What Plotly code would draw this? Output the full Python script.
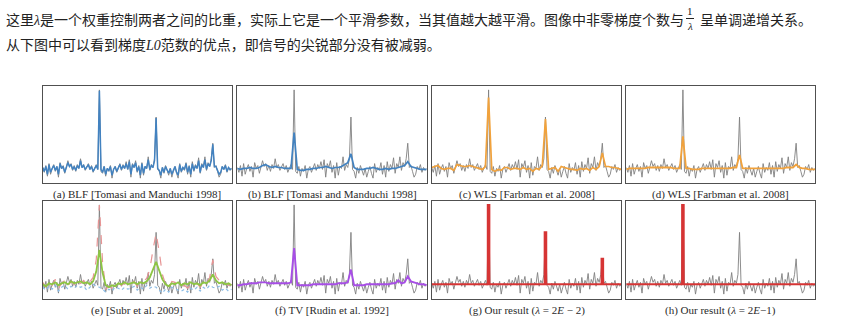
import plotly.graph_objects as go

W, H = 857, 328

# ---- signal data (sample index 0..120) ----
x_in = list(range(121))
noisy = [
    0.16, 0.11, 0.18, 0.07, 0.20, 0.09, 0.15, 0.19, 0.12, 0.17,
    0.06, 0.21, 0.15, 0.18, 0.10, 0.16, 0.23, 0.17, 0.20, 0.13,
    0.18, 0.12, 0.19, 0.15, 0.25, 0.16, 0.19, 0.13, 0.17, 0.20,
    0.14, 0.18, 0.11, 0.16, 0.19, 0.14, 0.96, 0.12, 0.10, 0.17,
    0.07, 0.15, 0.12, 0.18, 0.05, 0.14, 0.17, 0.11, 0.16, 0.20,
    0.13, 0.19, 0.15, 0.22, 0.14, 0.24, 0.06, 0.20, 0.16, 0.23,
    0.11, 0.18, 0.05, 0.21, 0.08, 0.17, 0.15, 0.27, 0.13, 0.19,
    0.16, 0.25, 0.68, 0.14, 0.12, 0.05, 0.16, 0.10, 0.18, 0.13,
    0.08, 0.15, 0.06, 0.12, 0.17, 0.10, 0.05, 0.20, 0.11, 0.16,
    0.13, 0.21, 0.09, 0.18, 0.06, 0.22, 0.12, 0.19, 0.15, 0.26,
    0.10, 0.20, 0.16, 0.27, 0.13, 0.21, 0.17, 0.25, 0.41, 0.16,
    0.18, 0.12, 0.06, 0.09, 0.17, 0.14, 0.19, 0.11, 0.16, 0.13, 0.15,
]

# (a) bilateral filter, light smoothing (full grid)
blf_light = [
    0.16, 0.12, 0.17, 0.09, 0.19, 0.11, 0.15, 0.18, 0.13, 0.17,
    0.09, 0.20, 0.15, 0.17, 0.11, 0.16, 0.21, 0.17, 0.19, 0.14,
    0.17, 0.13, 0.18, 0.15, 0.23, 0.16, 0.18, 0.14, 0.17, 0.19,
    0.14, 0.17, 0.12, 0.16, 0.18, 0.14, 0.95, 0.14, 0.11, 0.17,
    0.09, 0.15, 0.13, 0.17, 0.08, 0.14, 0.17, 0.12, 0.16, 0.19,
    0.14, 0.18, 0.15, 0.20, 0.14, 0.22, 0.09, 0.19, 0.16, 0.21,
    0.12, 0.17, 0.08, 0.20, 0.10, 0.17, 0.15, 0.24, 0.14, 0.18,
    0.16, 0.23, 0.67, 0.15, 0.13, 0.08, 0.16, 0.11, 0.17, 0.14,
    0.10, 0.15, 0.09, 0.13, 0.17, 0.11, 0.08, 0.19, 0.12, 0.16,
    0.14, 0.20, 0.11, 0.17, 0.09, 0.20, 0.13, 0.18, 0.15, 0.23,
    0.11, 0.19, 0.16, 0.24, 0.14, 0.20, 0.17, 0.23, 0.40, 0.17,
    0.17, 0.13, 0.09, 0.11, 0.17, 0.14, 0.18, 0.12, 0.16, 0.14, 0.15,
]

# smoother results sampled every second index
x_s = list(range(0, 121, 2))

blf_strong = [
    0.15, 0.14, 0.15, 0.15, 0.16, 0.15, 0.15, 0.16, 0.18, 0.19,
    0.17, 0.16, 0.17, 0.16, 0.16, 0.15, 0.15, 0.15, 0.52, 0.14,
    0.13, 0.13, 0.14, 0.14, 0.15, 0.15, 0.16, 0.16, 0.17, 0.16,
    0.15, 0.16, 0.16, 0.17, 0.19, 0.21, 0.30, 0.16, 0.14, 0.14,
    0.14, 0.15, 0.15, 0.16, 0.15, 0.14, 0.14, 0.15, 0.14, 0.15,
    0.15, 0.16, 0.17, 0.18, 0.22, 0.17, 0.16, 0.15, 0.14, 0.14,
    0.14,
]

wls_light = [
    0.16, 0.17, 0.18, 0.15, 0.14, 0.15, 0.15, 0.13, 0.19, 0.18,
    0.17, 0.17, 0.18, 0.17, 0.16, 0.15, 0.14, 0.17, 0.88, 0.14,
    0.12, 0.14, 0.13, 0.16, 0.16, 0.14, 0.15, 0.15, 0.14, 0.16,
    0.14, 0.15, 0.12, 0.15, 0.14, 0.18, 0.66, 0.14, 0.15, 0.16,
    0.12, 0.17, 0.16, 0.15, 0.14, 0.14, 0.13, 0.15, 0.14, 0.15,
    0.13, 0.16, 0.14, 0.17, 0.31, 0.17, 0.17, 0.16, 0.16, 0.15,
    0.14,
]

wls_strong = [
    0.14, 0.15, 0.15, 0.15, 0.15, 0.15, 0.15, 0.16, 0.16, 0.16,
    0.16, 0.16, 0.16, 0.16, 0.16, 0.15, 0.15, 0.15, 0.48, 0.15,
    0.15, 0.14, 0.14, 0.14, 0.15, 0.15, 0.15, 0.15, 0.15, 0.15,
    0.15, 0.15, 0.15, 0.15, 0.16, 0.16, 0.29, 0.15, 0.15, 0.15,
    0.15, 0.15, 0.15, 0.15, 0.15, 0.15, 0.15, 0.15, 0.15, 0.15,
    0.15, 0.16, 0.16, 0.16, 0.19, 0.16, 0.15, 0.15, 0.14, 0.14,
    0.14,
]

subr_main = [
    0.15, 0.13, 0.16, 0.15, 0.17, 0.14, 0.16, 0.17, 0.15, 0.18,
    0.16, 0.17, 0.18, 0.16, 0.17, 0.15, 0.18, 0.28, 0.50, 0.27,
    0.14, 0.12, 0.14, 0.13, 0.16, 0.15, 0.17, 0.15, 0.16, 0.17,
    0.15, 0.17, 0.16, 0.18, 0.22, 0.30, 0.38, 0.29, 0.20, 0.15,
    0.13, 0.16, 0.15, 0.17, 0.14, 0.16, 0.15, 0.17, 0.15, 0.16,
    0.14, 0.17, 0.16, 0.19, 0.25, 0.19, 0.16, 0.17, 0.15, 0.16,
    0.14,
]

subr_upper = [
    0.17, 0.12, 0.19, 0.14, 0.20, 0.11, 0.16, 0.19, 0.13, 0.18,
    0.15, 0.20, 0.16, 0.19, 0.13, 0.17, 0.22, 0.40, 0.96, 0.38,
    0.10, 0.13, 0.11, 0.17, 0.16, 0.14, 0.16, 0.13, 0.15, 0.18,
    0.13, 0.16, 0.18, 0.21, 0.30, 0.50, 0.67, 0.48, 0.25, 0.15,
    0.11, 0.18, 0.17, 0.14, 0.12, 0.14, 0.11, 0.15, 0.13, 0.16,
    0.12, 0.17, 0.15, 0.22, 0.40, 0.23, 0.19, 0.17, 0.16, 0.14,
    0.15,
]

subr_lower = [
    0.12, 0.09, 0.13, 0.10, 0.14, 0.08, 0.12, 0.14, 0.10, 0.13,
    0.11, 0.14, 0.12, 0.13, 0.09, 0.12, 0.15, 0.13, 0.12, 0.10,
    0.07, 0.10, 0.08, 0.12, 0.11, 0.09, 0.12, 0.10, 0.11, 0.13,
    0.09, 0.12, 0.10, 0.14, 0.11, 0.13, 0.12, 0.09, 0.06, 0.10,
    0.07, 0.12, 0.11, 0.09, 0.08, 0.10, 0.07, 0.11, 0.09, 0.12,
    0.08, 0.12, 0.10, 0.14, 0.12, 0.11, 0.13, 0.09, 0.11, 0.08,
    0.10,
]

tv = [
    0.14, 0.14, 0.15, 0.15, 0.16, 0.16, 0.16, 0.17, 0.17, 0.17,
    0.16, 0.16, 0.16, 0.16, 0.16, 0.16, 0.16, 0.17, 0.52, 0.14,
    0.14, 0.14, 0.14, 0.14, 0.15, 0.15, 0.15, 0.15, 0.15, 0.15,
    0.15, 0.15, 0.16, 0.16, 0.16, 0.17, 0.30, 0.14, 0.14, 0.14,
    0.14, 0.15, 0.15, 0.15, 0.15, 0.15, 0.15, 0.15, 0.15, 0.16,
    0.16, 0.19, 0.16, 0.17, 0.23, 0.18, 0.17, 0.16, 0.15, 0.15,
    0.14,
]

# L0 gradient minimisation: piecewise-constant segments (edges, levels)
l0_small_edges = [0, 35.5, 36.5, 71.5, 72.5, 107.5, 108.5, 120]
l0_small_levels = [0.15, 0.96, 0.15, 0.68, 0.15, 0.41, 0.15, 0.15]
l0_large_edges = [0, 35.5, 36.5, 120]
l0_large_levels = [0.15, 0.96, 0.15, 0.15]

captions = [
    "(a) BLF [Tomasi and Manduchi 1998]",
    "(b) BLF [Tomasi and Manduchi 1998]",
    "(c) WLS [Farbman et al. 2008]",
    "(d) WLS [Farbman et al. 2008]",
    "(e) [Subr et al. 2009]",
    "(f) TV [Rudin et al. 1992]",
    "(g) Our result (<i>λ</i> = 2<i>E</i> − 2)",
    "(h) Our result (<i>λ</i> = 2<i>E</i>−1)",
]

GRAY = "#808080"
BLUE = "#4282c0"
ORANGE = "#f1a23c"
GREEN = "#8dc543"
PURPLE = "#a74ee6"
RED = "#d63434"
PINK = "#e79494"
LIGHTBLUE = "#8cbde6"

cols = [(42.7, 231.7), (237.3, 426.7), (431.7, 621.3), (626.3, 815.0)]
rows = [(86.0, 183.0), (201.0, 299.0)]
cap_y = [194.0, 310.5]

fig = go.Figure()


def ax(i):
    return ("x" if i == 0 else f"x{i+1}", "y" if i == 0 else f"y{i+1}")


def add(i, x, y, color, width=1.6, dash=None, shape="linear"):
    xa, ya = ax(i)
    fig.add_trace(go.Scatter(
        x=x, y=y, mode="lines", xaxis=xa, yaxis=ya, showlegend=False,
        hoverinfo="skip",
        line=dict(color=color, width=width, dash=dash, shape=shape),
    ))


for i in range(8):
    add(i, x_in, noisy, GRAY, width=0.9)

add(0, x_in, blf_light, BLUE, 1.5)
add(1, x_s, blf_strong, BLUE, 1.7)
add(2, x_s, wls_light, ORANGE, 1.7)
add(3, x_s, wls_strong, ORANGE, 1.8)
add(4, x_s, subr_lower, LIGHTBLUE, 1.2, dash="dot")
add(4, x_s, subr_upper, PINK, 1.2, dash="dash")
add(4, x_s, subr_main, GREEN, 1.8)
add(5, x_s, tv, PURPLE, 1.9)
add(6, l0_small_edges, l0_small_levels, RED, 2.0, shape="hv")
add(7, l0_large_edges, l0_large_levels, RED, 2.0, shape="hv")

layout = dict(
    width=W, height=H,
    margin=dict(l=0, r=0, t=0, b=0),
    paper_bgcolor="white", plot_bgcolor="white",
    showlegend=False,
)
annotations = []
for i in range(8):
    r, c = divmod(i, 4)
    x0, x1 = cols[c]
    top, bot = rows[r]
    key = "" if i == 0 else str(i + 1)
    common = dict(showline=True, mirror=True, linecolor="#505050", linewidth=1.3,
                  showticklabels=False, ticks="", showgrid=False, zeroline=False,
                  fixedrange=True)
    layout["xaxis" + key] = dict(domain=[x0 / W, x1 / W], range=[0, 120],
                                 anchor="y" + key, **common)
    layout["yaxis" + key] = dict(domain=[1 - bot / H, 1 - top / H], range=[0, 1],
                                 anchor="x" + key, **common)
    annotations.append(dict(
        text=captions[i], x=(x0 + x1) / 2 / W, y=1 - cap_y[r] / H,
        xref="paper", yref="paper", xanchor="center", yanchor="middle",
        showarrow=False,
        font=dict(family="Liberation Serif", size=11, color="#2a2a2a"),
    ))

# paragraph above the figure
CJK = "Noto Sans CJK SC"
TXT = "#222222"
line1a = ("这里<span style=\"font-family:'Liberation Serif'\"><i>λ</i></span>"
          "是一个权重控制两者之间的比重，实际上它是一个平滑参数，当其值越大越平滑。图像中非零梯度个数与")
line1b = "呈单调递增关系。"
line2 = ("从下图中可以看到梯度<span style=\"font-family:'Liberation Serif'\"><i>L0</i></span>"
         "范数的优点，即信号的尖锐部分没有被减弱。")
frac_x = 690.0
annotations += [
    dict(text=line1a, x=4 / W, y=1 - 19 / H, xref="paper", yref="paper",
         xanchor="left", yanchor="middle", showarrow=False,
         font=dict(family=CJK, size=14, color=TXT)),
    dict(text="1", x=frac_x / W, y=1 - 11 / H, xref="paper", yref="paper",
         xanchor="center", yanchor="middle", showarrow=False,
         font=dict(family="Liberation Serif", size=11, color=TXT)),
    dict(text="<i>λ</i>", x=frac_x / W, y=1 - 26 / H, xref="paper", yref="paper",
         xanchor="center", yanchor="middle", showarrow=False,
         font=dict(family="Liberation Serif", size=11, color=TXT)),
    dict(text=line1b, x=(frac_x + 8) / W, y=1 - 19 / H, xref="paper", yref="paper",
         xanchor="left", yanchor="middle", showarrow=False,
         font=dict(family=CJK, size=14, color=TXT)),
    dict(text=line2, x=4 / W, y=1 - 44 / H, xref="paper", yref="paper",
         xanchor="left", yanchor="middle", showarrow=False,
         font=dict(family=CJK, size=14, color=TXT)),
]
layout["annotations"] = annotations
layout["shapes"] = [dict(type="line", xref="paper", yref="paper",
                         x0=(frac_x - 4) / W, x1=(frac_x + 4) / W,
                         y0=1 - 18.5 / H, y1=1 - 18.5 / H,
                         line=dict(color=TXT, width=1))]

fig.update_layout(**layout)
fig.write_html("out.html")
